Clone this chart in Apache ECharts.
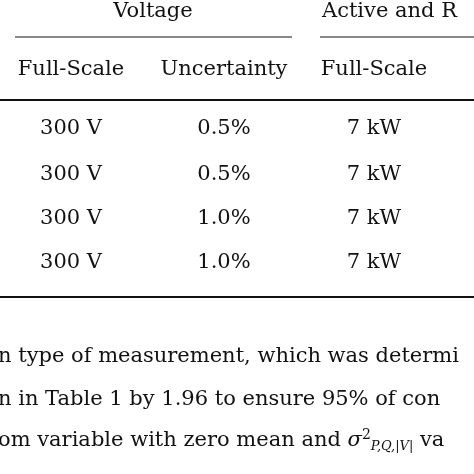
<!DOCTYPE html>
<html><head><meta charset="utf-8">
<script src="https://cdn.jsdelivr.net/npm/echarts@6/dist/echarts.min.js"></script>
<style>html,body{margin:0;padding:0;background:#fff}#c{width:474px;height:474px}</style>
</head><body><div id="c"></div>
<script>
// table content
const groupHeaders = ['Voltage', 'Active and R'];
const subHeaders = ['Full-Scale', 'Uncertainty', 'Full-Scale'];
const voltFull = ['300 V', '300 V', '300 V', '300 V'];
const voltUnc = ['0.5%', '0.5%', '1.0%', '1.0%'];
const powerFull = ['7 kW', '7 kW', '7 kW', '7 kW'];
const captionLines = [
  'n type of measurement, which was determi',
  'n in Table 1 by 1.96 to ensure 95% of con',
  'om variable with zero mean and '
];

const font = '"DejaVu Serif", "Liberation Serif", serif';
const fs = '21px ';
const colX = [71, 224, 374];
const rowY = [129, 175, 219, 263];
const txt = (x, y, s, align) => ({
  type: 'text', x: x, y: y,
  style: { text: s, font: fs + font, fill: '#111', align: align || 'center', verticalAlign: 'middle' }
});
const line = (x1, x2, y, w) => ({
  type: 'line', shape: { x1: x1, y1: y, x2: x2, y2: y }, style: { stroke: '#111', lineWidth: w }
});

const els = [];
els.push(txt(153, 12, groupHeaders[0]));
els.push(txt(322, 12, groupHeaders[1], 'left'));
els.push(line(15, 292, 37, 1), line(320, 474, 37, 1));
subHeaders.forEach((s, i) => els.push(txt(colX[i], 70, s)));
els.push(line(0, 474, 100, 2));
rowY.forEach((y, i) => {
  els.push(txt(colX[0], y, voltFull[i]));
  els.push(txt(colX[1], y, voltUnc[i]));
  els.push(txt(colX[2], y, powerFull[i]));
});
els.push(line(0, 474, 297, 2));
els.push(txt(-2, 357, captionLines[0], 'left'));
els.push(txt(-2, 400, captionLines[1], 'left'));
els.push({
  type: 'text', x: -2, y: 441,
  style: {
    text: captionLines[2] + '{s|σ}{sup|2}{sub|P,Q,|V|} va',
    font: fs + font, fill: '#111', align: 'left', verticalAlign: 'middle',
    rich: {
      s: { font: 'italic 21px ' + font, fill: '#111' },
      sup: { font: '14px ' + font, fill: '#111', verticalAlign: 'top', padding: [0, 0, 10, 0] },
      sub: { font: 'italic 13px ' + font, fill: '#111', padding: [12, 0, 0, 0] }
    }
  }
});

const chart = echarts.init(document.getElementById('c'));
chart.setOption({ backgroundColor: '#fff', graphic: els });
</script></body></html>
